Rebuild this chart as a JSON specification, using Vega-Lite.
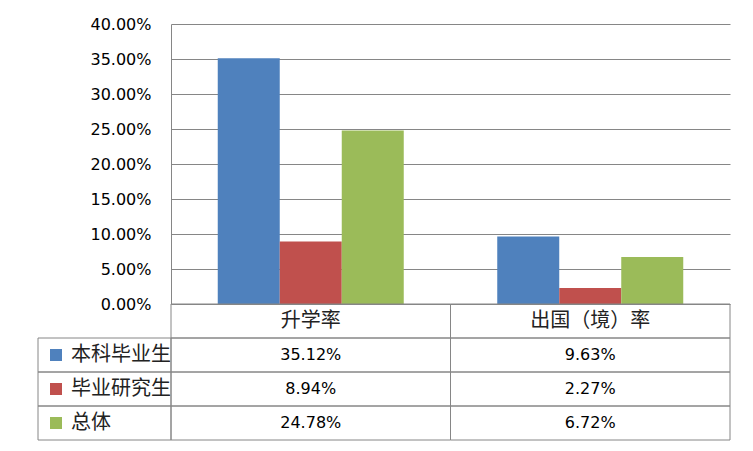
{
  "$schema": "https://vega.github.io/schema/vega-lite/v6.json",
  "padding": {"left": 37, "top": 16, "right": 0, "bottom": 0},
  "background": "white",
  "config": {"view": {"stroke": null}, "font": "DejaVu Sans"},
  "datasets": {
    "rates": [
      {"cat": "升学率", "series": "本科毕业生", "value": 0.3512},
      {"cat": "升学率", "series": "毕业研究生", "value": 0.0894},
      {"cat": "升学率", "series": "总体", "value": 0.2478},
      {"cat": "出国（境）率", "series": "本科毕业生", "value": 0.0963},
      {"cat": "出国（境）率", "series": "毕业研究生", "value": 0.0227},
      {"cat": "出国（境）率", "series": "总体", "value": 0.0672}
    ],
    "cats": [{"cat": "升学率"}, {"cat": "出国（境）率"}],
    "seriesList": [{"series": "本科毕业生"}, {"series": "毕业研究生"}, {"series": "总体"}]
  },
  "columns": 2,
  "spacing": 0,
  "bounds": "flush",
  "resolve": {"scale": {"x": "independent", "y": "independent", "color": "independent"}},
  "concat": [
    {"width": 133, "height": 280, "data": {"values": []}, "mark": "point", "encoding": {}},
    {
      "width": 559, "height": 280,
      "data": {"name": "rates"},
      "mark": "bar",
      "encoding": {
        "x": {"field": "cat", "type": "nominal", "sort": ["升学率", "出国（境）率"], "scale": {"paddingInner": 0, "paddingOuter": 0}, "axis": null},
        "xOffset": {"field": "series", "type": "nominal", "sort": ["本科毕业生", "毕业研究生", "总体"], "scale": {"paddingInner": 0, "paddingOuter": 0.754}},
        "y": {"field": "value", "type": "quantitative", "scale": {"domain": [0, 0.4]},
          "axis": {"format": ".2%", "values": [0, 0.05, 0.1, 0.15, 0.2, 0.25, 0.3, 0.35, 0.4], "grid": true, "gridColor": "#868686", "gridOpacity": 1, "domainColor": "#868686", "ticks": false, "labelPadding": 20, "labelFontSize": 16, "labelColor": "#000", "labelFont": "DejaVu Sans", "title": null}},
        "color": {"field": "series", "type": "nominal", "sort": ["本科毕业生", "毕业研究生", "总体"], "scale": {"domain": ["本科毕业生", "毕业研究生", "总体"], "range": ["#4F81BD", "#C0504D", "#9BBB59"]},
          "legend": {"title": null, "orient": "none", "legendX": -125, "legendY": 321, "symbolType": "square", "symbolSize": 144, "symbolStrokeWidth": 0, "symbolOpacity": 1, "labelFont": "Noto Sans CJK SC", "labelFontSize": 20, "labelColor": "#222", "labelOffset": 5, "rowPadding": 14, "padding": 0}}
      }
    },
    {
      "width": 133, "height": 136,
      "data": {"name": "seriesList"},
      "mark": {"type": "rect", "fill": "white", "fillOpacity": 0, "stroke": "#868686", "strokeWidth": 1},
      "encoding": {
        "y": {"field": "series", "type": "nominal", "scale": {"domain": ["hdr", "本科毕业生", "毕业研究生", "总体"], "paddingInner": 0, "paddingOuter": 0}, "axis": null}
      }
    },
    {
      "width": 559, "height": 136,
      "layer": [
        {
          "data": {"name": "rates"},
          "mark": {"type": "rect", "fill": "white", "fillOpacity": 0, "stroke": "#868686", "strokeWidth": 1},
          "encoding": {
            "x": {"field": "cat", "type": "nominal", "sort": ["升学率", "出国（境）率"], "scale": {"paddingInner": 0, "paddingOuter": 0}, "axis": null},
            "y": {"field": "series", "type": "nominal", "scale": {"domain": ["hdr", "本科毕业生", "毕业研究生", "总体"], "paddingInner": 0, "paddingOuter": 0}, "axis": null}
          }
        },
        {
          "data": {"name": "cats"},
          "mark": {"type": "rect", "fill": "white", "fillOpacity": 0, "stroke": "#868686", "strokeWidth": 1},
          "encoding": {
            "x": {"field": "cat", "type": "nominal", "sort": ["升学率", "出国（境）率"], "axis": null},
            "y": {"datum": "hdr", "type": "nominal", "axis": null}
          }
        },
        {
          "data": {"name": "rates"},
          "mark": {"type": "text", "font": "DejaVu Sans", "fontSize": 16, "color": "#000"},
          "encoding": {
            "x": {"field": "cat", "type": "nominal", "sort": ["升学率", "出国（境）率"], "axis": null},
            "y": {"field": "series", "type": "nominal", "axis": null},
            "text": {"field": "value", "type": "quantitative", "format": ".2%"}
          }
        },
        {
          "data": {"name": "cats"},
          "mark": {"type": "text", "font": "Noto Sans CJK SC", "fontSize": 20, "color": "#222"},
          "encoding": {
            "x": {"field": "cat", "type": "nominal", "sort": ["升学率", "出国（境）率"], "axis": null},
            "y": {"datum": "hdr", "type": "nominal", "axis": null},
            "text": {"field": "cat", "type": "nominal"}
          }
        }
      ]
    }
  ]
}
